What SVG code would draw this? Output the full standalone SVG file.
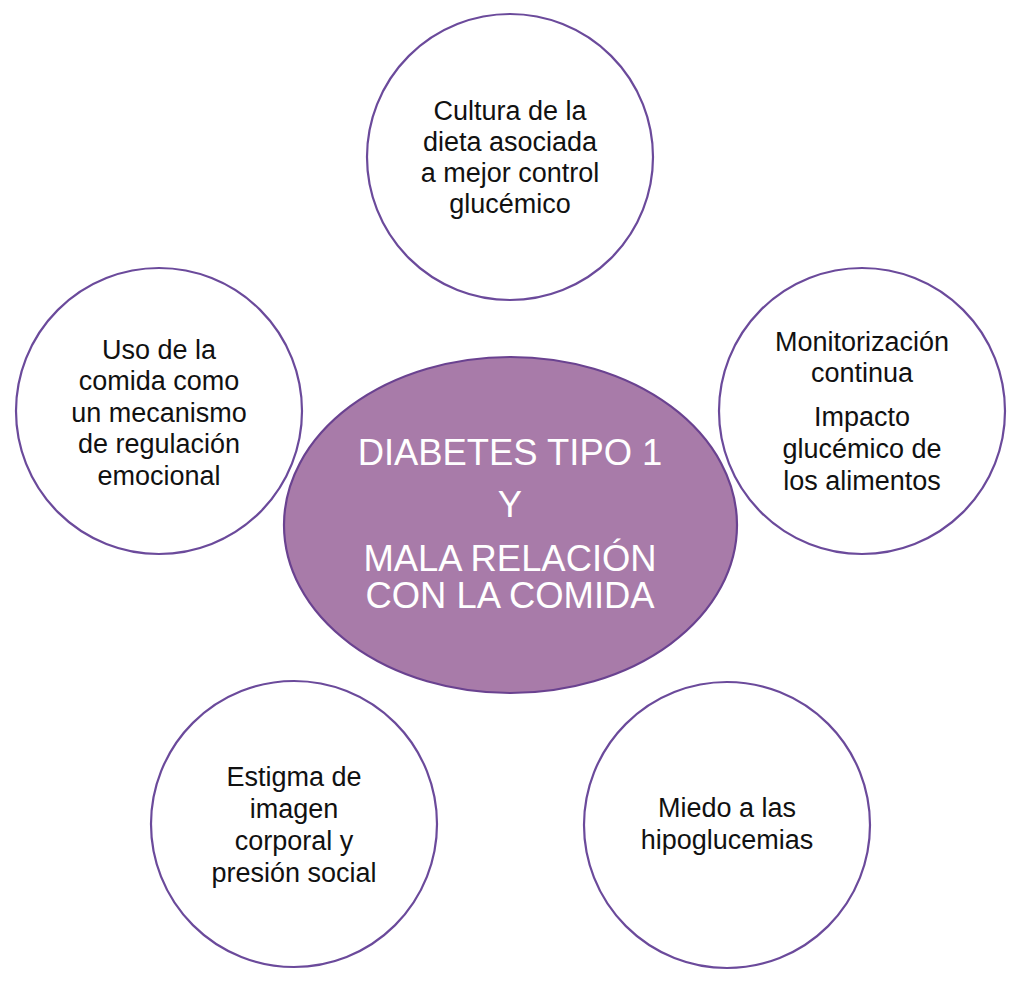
<svg xmlns="http://www.w3.org/2000/svg" width="1024" height="987" viewBox="0 0 1024 987">
<style>
.c{fill:#fff;stroke:#6b4a9b;stroke-width:2.2}
.e{fill:#a87ba9;stroke:#6a4290;stroke-width:2.2}
.t{font-family:"Liberation Sans",Arial,sans-serif;font-size:27px;fill:#111;text-anchor:middle}
.w{font-family:"Liberation Sans",Arial,sans-serif;font-size:36.4px;fill:#fff;text-anchor:middle}
</style>
<rect width="1024" height="987" fill="#fff"/>
<g id="connectors"/>
<g id="n-top">
<circle class="c" cx="510" cy="157" r="143"/>
<text class="t" x="510" y="120">Cultura de la</text>
<text class="t" x="510" y="151">dieta asociada</text>
<text class="t" x="510" y="182">a mejor control</text>
<text class="t" x="510" y="213">glucémico</text>
</g>
<g id="n-left">
<circle class="c" cx="159" cy="411" r="143"/>
<text class="t" x="159" y="359">Uso de la</text>
<text class="t" x="159" y="390">comida como</text>
<text class="t" x="159" y="422">un mecanismo</text>
<text class="t" x="159" y="453">de regulación</text>
<text class="t" x="159" y="485">emocional</text>
</g>
<g id="n-right">
<circle class="c" cx="862" cy="411" r="143"/>
<text class="t" x="862" y="351">Monitorización</text>
<text class="t" x="862" y="382">continua</text>
<text class="t" x="862" y="426">Impacto</text>
<text class="t" x="862" y="458">glucémico de</text>
<text class="t" x="862" y="490">los alimentos</text>
</g>
<g id="n-center">
<ellipse class="e" cx="510.5" cy="525" rx="226.5" ry="168"/>
<text class="w" x="510" y="465">DIABETES TIPO 1</text>
<text class="w" x="510" y="517">Y</text>
<text class="w" x="510" y="571">MALA RELACIÓN</text>
<text class="w" x="510" y="608">CON LA COMIDA</text>
</g>
<g id="n-bottom-left">
<circle class="c" cx="294" cy="824" r="143"/>
<text class="t" x="294" y="786">Estigma de</text>
<text class="t" x="294" y="818">imagen</text>
<text class="t" x="294" y="850">corporal y</text>
<text class="t" x="294" y="882">presión social</text>
</g>
<g id="n-bottom-right">
<circle class="c" cx="727" cy="825" r="143"/>
<text class="t" x="727" y="817">Miedo a las</text>
<text class="t" x="727" y="849">hipoglucemias</text>
</g>
</svg>
